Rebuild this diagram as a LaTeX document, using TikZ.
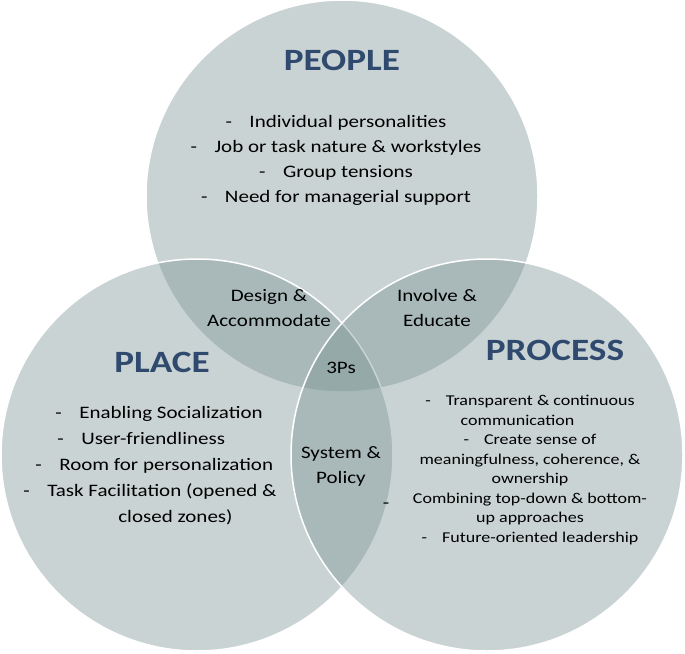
\documentclass[tikz,border=0pt]{standalone}
\usepackage{fontspec}
\setmainfont{Carlito}[FakeStretch=1.2]
\definecolor{cfill}{RGB}{120,145,145}
\definecolor{ttl}{RGB}{47,74,110}
\begin{document}
\begin{tikzpicture}[x=1pt,y=-1pt,
  circ/.style={circle,minimum size=392pt,fill=cfill,fill opacity=0.4,draw=white,line width=1.5pt,inner sep=0},
  title/.style={font=\bfseries\fontsize{31}{33}\selectfont,text=ttl},
  body/.style={font=\fontsize{17.5}{25}\selectfont,align=center,text=black}]
\useasboundingbox (0,0) rectangle (685,653);
\node[circ] (c1) at (342,196) {};
\node[circ] (c2) at (197,455) {};
\node[circ] (c3) at (487,455) {};
\node[title] (t1) at (342,60) {PEOPLE};
\node[title] (t2) at (162,362) {PLACE};
\node[title] (t3) at (555,350) {PROCESS};
\node[body] (b1) at (336,160) {-\quad Individual personalities\\-\quad Job or task nature \& workstyles\\-\quad Group tensions\\-\quad Need for managerial support};
\node[body,align=left,font=\fontsize{17.5}{26}\selectfont] (b2) at (150,466) {\hspace{32pt}-\quad Enabling Socialization\\\hspace{34pt}-\quad User-friendliness\\\hspace{12pt}-\quad Room for personalization\\-\quad Task Facilitation (opened \&\\\hspace{95pt}closed zones)};
\node[body,font=\fontsize{15}{19.5}\selectfont] (b3) at (530,470) {-\quad Transparent \& continuous\\\hspace{-25pt}communication\\-\quad Create sense of\\meaningfulness, coherence, \&\\ownership\\Combining top-down \& bottom-\\up approaches\\-\quad Future-oriented leadership};
\node[body] (o1) at (269,308) {Design \&\\Accommodate};
\node[body] (o2) at (437,308) {Involve \&\\Educate};
\node[body] (o3) at (341,368) {3Ps};
\node[body] (o4) at (341,466) {System \&\\Policy};
\node[body] (d) at (386,506) {-};
\end{tikzpicture}
\end{document}
